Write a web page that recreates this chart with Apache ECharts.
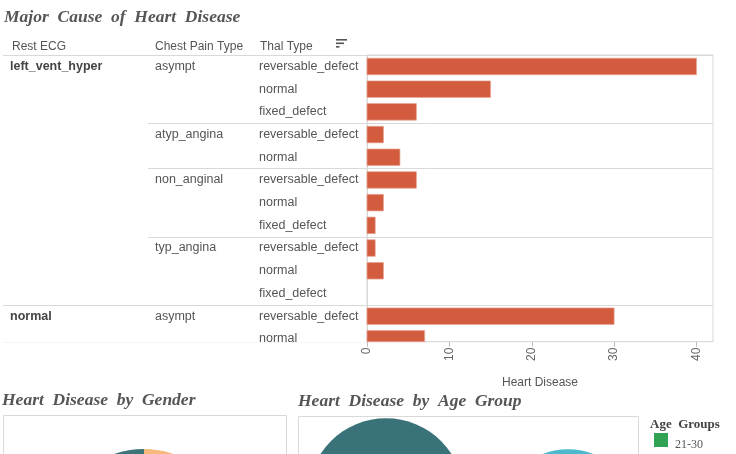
<!DOCTYPE html>
<html><head><meta charset="utf-8">
<script src="https://cdn.jsdelivr.net/npm/echarts@6/dist/echarts.min.js"></script>
<style>html,body{margin:0;padding:0;background:#fff}#c{width:736px;height:454px}</style>
</head><body><div id="c"></div>
<script>
// ---- data ----
const headers = ['Rest ECG', 'Chest Pain Type', 'Thal Type'];
const restEcgTypes = ['left_vent_hyper','left_vent_hyper','left_vent_hyper','left_vent_hyper','left_vent_hyper','left_vent_hyper','left_vent_hyper','left_vent_hyper','left_vent_hyper','left_vent_hyper','left_vent_hyper','normal','normal'];
const chestPainTypes = ['asympt','asympt','asympt','atyp_angina','atyp_angina','non_anginal','non_anginal','non_anginal','typ_angina','typ_angina','typ_angina','asympt','asympt'];
const thalTypes = ['reversable_defect','normal','fixed_defect','reversable_defect','normal','reversable_defect','normal','fixed_defect','reversable_defect','normal','fixed_defect','reversable_defect','normal'];
const heartDisease = [40, 15, 6, 2, 4, 6, 2, 1, 1, 2, 0, 30, 7];
const genderNames = ['Female', 'Male'];
const genderCounts = [25, 114];
const ageGroups = ['51-60', '41-50'];
const ageCounts = [67, 54];
const legendGroups = ['21-30'];

// ---- styles ----
const SANS = '"Liberation Sans", Arial, Helvetica, sans-serif';
const SERIF = '"Liberation Serif", "Times New Roman", serif';
const TXT = '#555';
const LINE = '#d9d9d9';
const BAR = '#d35b3e';
const ageColors = ['#3a7279', '#4cb8cc'];
const ageOffsets = [[0, 42], [0, 65]];
const legendColors = ['#31a354'];

const chart = echarts.init(document.getElementById('c'));

function crisp(v) { return Math.round(v) + 0.5; }

function barItem(params, api) {
  const v = api.value(0), row = api.value(1);
  const p0 = api.coord([0, row + 0.14]);
  const p1 = api.coord([v, row + 0.87]);
  const cs = params.coordSys;
  const r = echarts.graphic.clipRectByRect(
    { x: p0[0], y: p0[1], width: p1[0] - p0[0], height: p1[1] - p0[1] },
    { x: cs.x, y: cs.y, width: cs.width, height: cs.height });
  if (!r || r.width <= 0) return null;
  return { type: 'rect', shape: r, style: { fill: BAR, stroke: '#e8a696', lineWidth: 0.7 } };
}

function labelItem(params, api) {
  const i = api.value(0);
  const cs = params.coordSys;
  const yTop = crisp(api.coord([0, i])[1]);
  const yMid = api.coord([0, i + 0.5])[1];
  const newEcg = i === 0 || restEcgTypes[i] !== restEcgTypes[i - 1];
  const newCp = newEcg || chestPainTypes[i] !== chestPainTypes[i - 1];
  const F = '12.5px ' + SANS;
  const children = [];
  children.push({ type: 'text', style: { text: thalTypes[i], x: 259, y: yMid, verticalAlign: 'middle', fill: TXT, font: F } });
  if (newCp) children.push({ type: 'text', style: { text: chestPainTypes[i], x: 155, y: yMid, verticalAlign: 'middle', fill: TXT, font: F } });
  if (newEcg) children.push({ type: 'text', style: { text: restEcgTypes[i], x: 10, y: yMid, verticalAlign: 'middle', fill: '#444', font: 'bold ' + F } });
  if (newCp) children.push({ type: 'line', shape: { x1: newEcg ? 3 : 148, y1: yTop, x2: cs.x + cs.width, y2: yTop }, style: { stroke: LINE, lineWidth: 1 } });
  if (i === 0) {
    const yb = crisp(cs.y + cs.height);
    children.push({ type: 'line', shape: { x1: 3, y1: yb, x2: cs.x, y2: yb }, style: { stroke: LINE, lineWidth: 1 } });
  }
  return { type: 'group', children, clipPath: { type: 'rect', shape: { x: 0, y: cs.y - 2, width: 736, height: cs.height + 2.5 } } };
}

const titleStyle = { fontFamily: SERIF, fontStyle: 'italic', fontWeight: 'bold', fontSize: 17.5, color: TXT };

const option = {
  animation: false,
  title: [
    { text: 'Major  Cause  of  Heart  Disease', left: 4, top: 8, textStyle: titleStyle, padding: 0 },
    { text: 'Heart  Disease  by  Gender', left: 2, top: 391, textStyle: titleStyle, padding: 0 },
    { text: 'Heart  Disease  by  Age  Group', left: 298, top: 392, textStyle: titleStyle, padding: 0 }
  ],
  grid: [
    { left: 367, right: 23, top: 55, bottom: 112.3, show: true, borderColor: LINE, borderWidth: 1 },
    { left: 295, width: 364, top: 416, height: 38 }
  ],
  xAxis: [
    { type: 'value', gridIndex: 0, min: 0, max: 42, interval: 10, position: 'bottom',
      axisLine: { show: true, onZero: false, lineStyle: { color: LINE } },
      axisTick: { show: true, inside: false, length: 5, lineStyle: { color: '#bdbdbd', width: 1 } },
      axisLabel: { rotate: 90, color: '#666', fontSize: 12, fontFamily: SANS, showMaxLabel: false, margin: 6 },
      splitLine: { show: false },
      name: 'Heart Disease', nameLocation: 'middle', nameGap: 35,
      nameTextStyle: { color: TXT, fontSize: 12, fontFamily: SANS } },
    { type: 'category', gridIndex: 1, data: ageGroups, show: false }
  ],
  yAxis: [
    { type: 'value', gridIndex: 0, inverse: true, min: 0, max: 12.63,
      axisLine: { show: true, onZero: false, lineStyle: { color: LINE } }, axisTick: { show: false },
      axisLabel: { show: false }, splitLine: { show: false } },
    { type: 'value', gridIndex: 1, min: 0, max: 1, show: false }
  ],
  graphic: [
    { type: 'text', left: 12, top: 41, style: { text: headers[0], fill: TXT, font: '12px ' + SANS } },
    { type: 'text', left: 155, top: 41, style: { text: headers[1], fill: TXT, font: '12px ' + SANS } },
    { type: 'text', left: 260, top: 41, style: { text: headers[2], fill: TXT, font: '12px ' + SANS } },
    { type: 'rect', shape: { x: 336, y: 39, width: 11, height: 1.6 }, style: { fill: '#555' } },
    { type: 'rect', shape: { x: 336, y: 42.5, width: 8, height: 1.6 }, style: { fill: '#555' } },
    { type: 'rect', shape: { x: 336, y: 46, width: 3.5, height: 1.6 }, style: { fill: '#555' } },
    { type: 'rect', shape: { x: 3.5, y: 415.5, width: 283, height: 60 }, style: { fill: 'none', stroke: LINE, lineWidth: 1 }, z: 10 },
    { type: 'rect', shape: { x: 298.5, y: 416.5, width: 340, height: 60 }, style: { fill: 'none', stroke: LINE, lineWidth: 1 }, z: 10 },
    { type: 'text', left: 650, top: 418, style: { text: 'Age  Groups', fill: '#444', font: 'bold 13px ' + SERIF } },
    { type: 'rect', shape: { x: 654, y: 433, width: 14, height: 14 }, style: { fill: legendColors[0] } },
    { type: 'text', left: 675, top: 439, style: { text: legendGroups[0], fill: TXT, font: '12px ' + SERIF } }
  ],
  series: [
    { type: 'custom', xAxisIndex: 0, yAxisIndex: 0, renderItem: barItem, encode: { x: 0, y: 1 },
      data: heartDisease.map((v, i) => [v, i]), silent: true },
    { type: 'custom', xAxisIndex: 0, yAxisIndex: 0, renderItem: labelItem, encode: { y: 0 },
      data: thalTypes.map((t, i) => [i]), silent: true, z: 3 },
    { type: 'pie', center: [144, 541], radius: 92, startAngle: 90, clockwise: true, silent: true,
      label: { show: false }, labelLine: { show: false },
      color: ['#f6b97b', '#3b7379'],
      data: genderNames.map((n, i) => ({ name: n, value: genderCounts[i] })) },
    { type: 'scatter', xAxisIndex: 1, yAxisIndex: 1, clip: false, silent: true,
      data: ageGroups.map((g, i) => ({ value: [g, 0], symbolSize: 19 * Math.sqrt(ageCounts[i]), symbolOffset: ageOffsets[i], itemStyle: { color: ageColors[i], opacity: 1 } })) }
  ]
};
chart.setOption(option);
</script>
</body></html>
